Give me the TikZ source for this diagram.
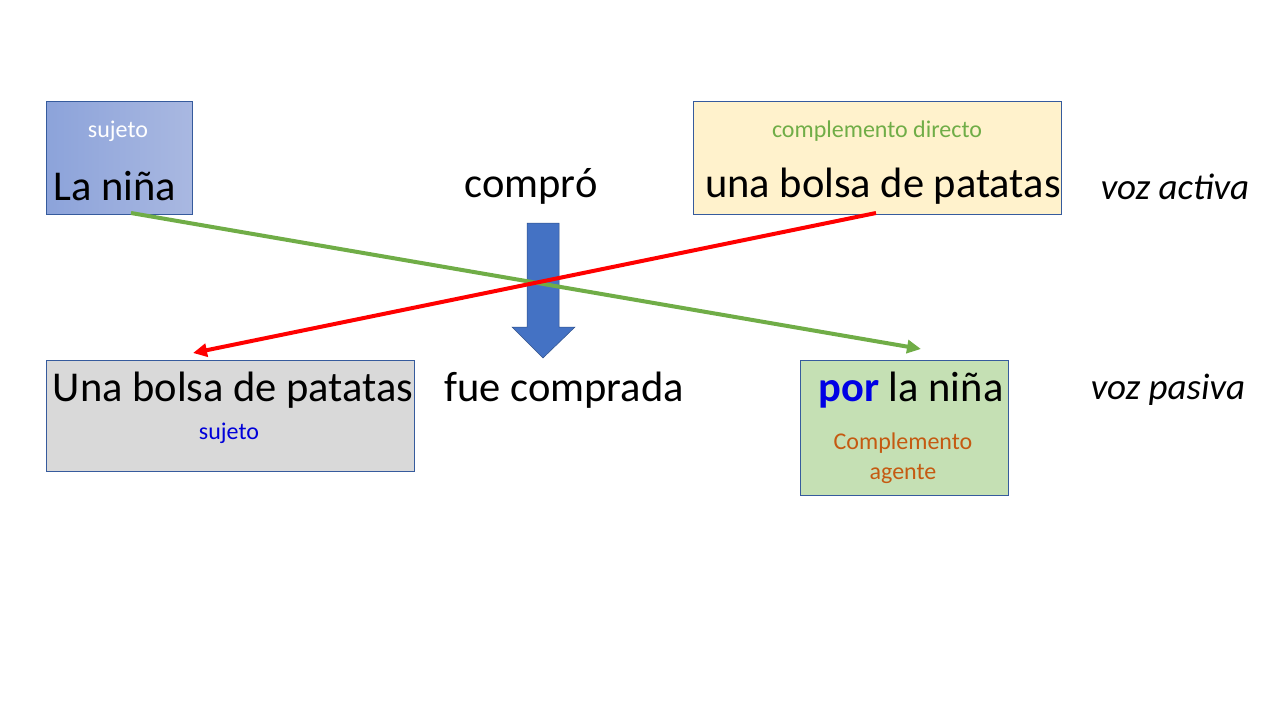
\documentclass[tikz,border=0pt]{standalone}
\usepackage{fontspec}
\setmainfont{Carlito}
\usetikzlibrary{arrows.meta,shapes.arrows}
\definecolor{bblue}{HTML}{4472C4}
\definecolor{ggreen}{HTML}{70AD47}
\definecolor{oorange}{HTML}{C55A11}
\definecolor{gl}{HTML}{8CA3DA}
\definecolor{gr}{HTML}{A9B8E1}
\tikzset{
  box/.style={draw=bblue!80!black, line width=0.6pt},
  big/.style={font=\fontsize{42.5}{42}\selectfont, inner sep=0pt},
  small/.style={font=\fontsize{24}{24}\selectfont, inner sep=0pt},
  ital/.style={font=\fontsize{37}{37}\selectfont\itshape, inner sep=0pt},
  conn/.style={line width=4pt, -{Triangle[length=14pt,width=13pt]}}
}
\begin{document}
\begin{tikzpicture}[x=1pt,y=-1pt]
\useasboundingbox (0,0) rectangle (1280,720);
\fill[white] (0,0) rectangle (1280,720);
% boxes
\shade[left color=gl, right color=gr] (46,101) rectangle (192,214);
\draw[box] (46,101) rectangle (192,214);
\draw[box, fill={rgb,255:red,255;green,242;blue,204}] (693,101) rectangle (1061,214);
\draw[box, fill={rgb,255:red,217;green,217;blue,217}] (46,360) rectangle (414,471);
\draw[box, fill={rgb,255:red,197;green,224;blue,180}] (800,360) rectangle (1008,495);
% texts
\node[small, text=white] (s1) at (118,131) {sujeto};
\node[big, anchor=west] (lanina) at (53,186) {La niña};
\node[big] (compro) at (531,186) {compró};
\node[small, text=ggreen] (cd) at (877,131) {complemento directo};
\node[big] (ubp) at (883,186) {una bolsa de patatas};
\node[ital] (va) at (1175,187) {voz activa};
\node[big] (UBP) at (233,390) {Una bolsa de patatas};
\node[small, text=blue!85!black] (s2) at (229,433) {sujeto};
\node[big] (fc) at (564,390) {fue comprada};
\node[big] (por) at (911,390) {\textcolor{blue!90!black}{\bfseries por} la niña};
\node[small, text=oorange, align=center] (ca) at (903,458) {Complemento\\[6pt]agente};
\node[ital] (vp) at (1168,390) {voz pasiva};
% down arrow
\fill[bblue] (527,223) -- (559,223) -- (559,327) -- (575,327) -- (543,358) -- (512,327) -- (527,327) -- cycle;
\draw[bblue!70!black, line width=0.5pt] (527,223) -- (559,223) -- (559,327) -- (575,327) -- (543,358) -- (512,327) -- (527,327) -- cycle;
% crossing arrows
\coordinate (g1) at (131,213); \coordinate (g2) at (921,349);
\coordinate (r1) at (876,213); \coordinate (r2) at (193,353);
\draw[conn, draw=ggreen, fill=ggreen] (g1) -- (g2);
\draw[conn, draw=red, fill=red] (r1) -- (r2);
\end{tikzpicture}
\end{document}
